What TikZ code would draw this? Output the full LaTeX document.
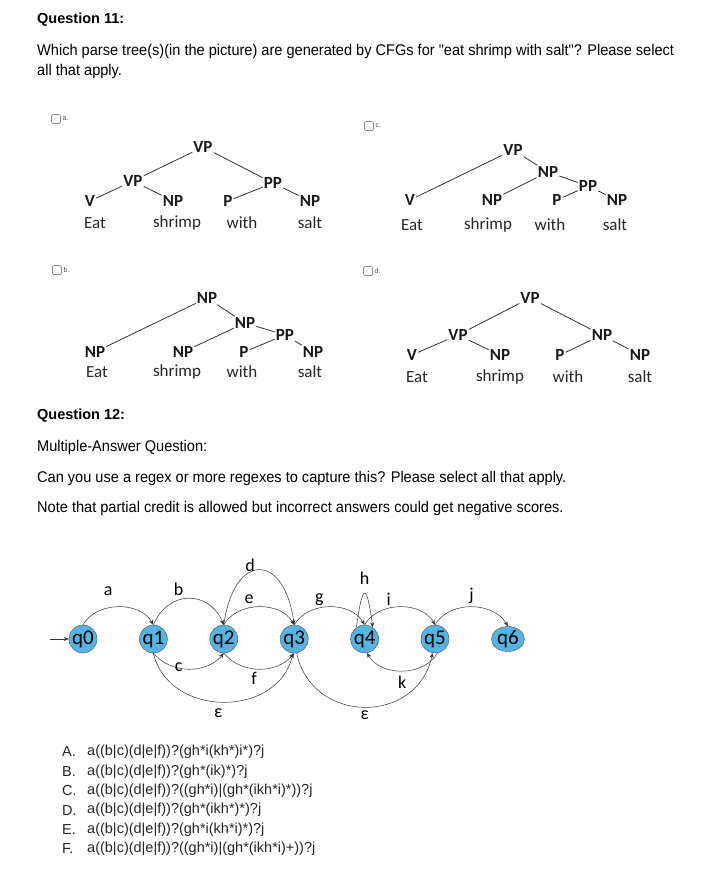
\documentclass[tikz,border=0pt]{standalone}
\usepackage{fontspec}
\setmainfont{Liberation Sans}
\newfontfamily\bodyfont[FakeStretch=0.94]{Liberation Sans}
\newfontfamily\treefont{Carlito}
\newfontfamily\fsmfont{Carlito}
\usetikzlibrary{arrows.meta,positioning,shapes.geometric}
\definecolor{StateBlue}{HTML}{56B4E0}
\definecolor{EdgeGray}{HTML}{333333}
\definecolor{BoxGray}{HTML}{8A8A8A}
\tikzset{
  qtitle/.style={anchor=west,inner sep=0pt,font=\bfseries\fontsize{14.5}{17}\selectfont},
  qtext/.style={anchor=west,inner sep=0pt,font=\bodyfont\fontsize{15.5}{18}\selectfont},
  tlab/.style={inner sep=1pt,font=\treefont\bfseries\fontsize{17}{20}\selectfont,text=black!90},
  tword/.style={inner sep=0pt,font=\treefont\fontsize{17}{20}\selectfont,text=black!85},
  tedge/.style={draw=EdgeGray,line width=0.8pt},
  chk/.style={draw=BoxGray,line width=0.7pt,rounded corners=1.5pt,minimum size=9pt,inner sep=0pt},
  chklab/.style={anchor=west,inner sep=0pt,font=\fontsize{7}{8}\selectfont,text=black!70},
  qstate/.style={circle,draw=black!70,fill=StateBlue,minimum size=28pt,inner sep=0pt,
    font=\fsmfont\fontsize{21}{22}\selectfont},
  fsmedge/.style={draw=EdgeGray,line width=0.5pt,-{Stealth[length=5pt,width=4pt]}},
  elab/.style={inner sep=0pt,font=\fsmfont\fontsize{18}{20}\selectfont},
  regex/.style={anchor=west,inner sep=0pt,font=\fontsize{14.5}{17}\selectfont,text=black!85}
}
\begin{document}
\begin{tikzpicture}[x=1pt,y=1pt]
\useasboundingbox[fill=white] (0,0) rectangle (708,-871);

\node[qtitle] (q11) at (37,-20) {Question 11:};
\node[qtext] (q11a) at (37,-51) {Which parse tree(s)(in the picture) are generated by CFGs for "eat shrimp with salt"? Please select};
\node[qtext] (q11b) at (37,-71) {all that apply.};

% tree a
\node[chk] (boxa) at (56,-119) {};
\node[chklab] (laba) at (62.5,-119) {a.};
\node[tlab] (aVP) at (203,-147) {VP};
\node[tlab] (aVPl) at (133,-181) {VP};
\node[tlab] (aPP) at (273,-183) {PP};
\node[tlab] (aV) at (90,-201) {V};
\node[tlab] (aNPa) at (173,-201) {NP};
\node[tlab] (aP) at (228,-201) {P};
\node[tlab] (aNPb) at (310,-201) {NP};
\node[tword] (aw1) at (95,-223) {Eat};
\node[tword] (aw2) at (177,-223) {shrimp};
\node[tword] (aw3) at (242,-223) {with};
\node[tword] (aw4) at (310,-223) {salt};
\foreach \p/\c in {aVP/aVPl,aVP/aPP,aVPl/aV,aVPl/aNPa,aPP/aP,aPP/aNPb}
  \draw[tedge] (\p) -- (\c);

% tree c
\node[chk] (boxc) at (369,-126) {};
\node[chklab] (labc) at (375.5,-126) {c.};
\node[tlab] (cVP) at (513,-150) {VP};
\node[tlab] (cNP) at (548,-172) {NP};
\node[tlab] (cPP) at (588,-186) {PP};
\node[tlab] (cV) at (410,-200) {V};
\node[tlab] (cNPa) at (492,-200) {NP};
\node[tlab] (cP) at (557,-200) {P};
\node[tlab] (cNPb) at (617,-200) {NP};
\node[tword] (cw1) at (412,-225) {Eat};
\node[tword] (cw2) at (488,-225) {shrimp};
\node[tword] (cw3) at (550,-225) {with};
\node[tword] (cw4) at (615,-225) {salt};
\foreach \p/\c in {cVP/cV,cVP/cNP,cNP/cNPa,cNP/cPP,cPP/cP,cPP/cNPb}
  \draw[tedge] (\p) -- (\c);

% tree b
\node[chk] (boxb) at (57,-270) {};
\node[chklab] (labb) at (63.5,-270) {b.};
\node[tlab] (bNP) at (207,-298) {NP};
\node[tlab] (bNPm) at (245,-323) {NP};
\node[tlab] (bPP) at (285,-335) {PP};
\node[tlab] (bNPe) at (95,-352) {NP};
\node[tlab] (bNPa) at (183,-352) {NP};
\node[tlab] (bP) at (244,-352) {P};
\node[tlab] (bNPb) at (313,-352) {NP};
\node[tword] (bw1) at (97,-372) {Eat};
\node[tword] (bw2) at (177,-372) {shrimp};
\node[tword] (bw3) at (242,-372) {with};
\node[tword] (bw4) at (310,-372) {salt};
\foreach \p/\c in {bNP/bNPe,bNP/bNPm,bNPm/bNPa,bNPm/bPP,bPP/bP,bPP/bNPb}
  \draw[tedge] (\p) -- (\c);

% tree d
\node[chk] (boxd) at (368,-271) {};
\node[chklab] (labd) at (374.5,-271) {d.};
\node[tlab] (dVP) at (530,-298) {VP};
\node[tlab] (dVPl) at (458,-335) {VP};
\node[tlab] (dNP) at (602,-335) {NP};
\node[tlab] (dV) at (412,-355) {V};
\node[tlab] (dNPa) at (500,-355) {NP};
\node[tlab] (dP) at (560,-355) {P};
\node[tlab] (dNPb) at (640,-355) {NP};
\node[tword] (dw1) at (417,-377) {Eat};
\node[tword] (dw2) at (500,-377) {shrimp};
\node[tword] (dw3) at (568,-377) {with};
\node[tword] (dw4) at (640,-377) {salt};
\foreach \p/\c in {dVP/dVPl,dVP/dNP,dVPl/dV,dVPl/dNPa,dNP/dP,dNP/dNPb}
  \draw[tedge] (\p) -- (\c);

\node[qtitle] (q12) at (37,-416) {Question 12:};
\node[qtext] (q12a) at (37,-447) {Multiple-Answer Question:};
\node[qtext] (q12b) at (37,-478) {Can you use a regex or more regexes to capture this? Please select all that apply.};
\node[qtext] (q12c) at (37,-508) {Note that partial credit is allowed but incorrect answers could get negative scores.};

% automaton
\node[qstate] (q0) at (83,-639) {q0};
\node[qstate,right=42pt of q0] (q1) {q1};
\node[qstate,right=42pt of q1] (q2) {q2};
\node[qstate,right=42pt of q2] (q3) {q3};
\node[qstate,right=42pt of q3] (q4) {q4};
\node[qstate,right=42pt of q4] (q5) {q5};
\node[qstate,ellipse,minimum width=33pt,minimum height=25pt,right=42pt of q5] (q6) {q6};
\coordinate (init) at (50,-639);

\draw[fsmedge] (init) -- (q0);
\draw[fsmedge] (q0.north) to[out=60,in=120]
  node[elab,midway,xshift=-10pt,yshift=16pt] {a} (q1.north);
\draw[fsmedge] (q1.north) .. controls +(15,35) and +(-15,35) ..
  node[elab,midway,xshift=-10pt,yshift=9pt] {b} (q2.north);
\draw[fsmedge] (q1.south) to[out=-50,in=-130]
  node[elab,midway,xshift=-10pt,yshift=2pt] {c} (q2.south);
\draw[fsmedge] (q2.north) .. controls +(10,73) and +(-10,73) ..
  node[elab,midway,xshift=-9pt,yshift=5pt] {d} (q3.north);
\draw[fsmedge] (q2.north) to[out=60,in=120]
  node[elab,midway,xshift=-10pt,yshift=8pt] {e} (q3.north);
\draw[fsmedge] (q2.south) to[out=-50,in=-130]
  node[elab,midway,xshift=-5pt,yshift=-9pt] {f} (q3.south);
\draw[fsmedge] (q1.south) .. controls +(15,-65) and +(-15,-65) ..
  node[elab,midway,xshift=-5pt,yshift=-11pt] {ε} (q3.-95);
\draw[fsmedge] (q3.north) to[out=60,in=120]
  node[elab,midway,xshift=-10pt,yshift=7pt] {g} (q4.north);
\draw[fsmedge] (q4.125) .. controls +(6,45) and +(-6,45) ..
  node[elab,midway,yshift=15pt] {h} (q4.55);
\draw[fsmedge] (q4.north) to[out=60,in=120]
  node[elab,midway,xshift=-11pt,yshift=8pt] {i} (q5.north);
\draw[fsmedge] (q5.north) to[out=60,in=120]
  node[elab,midway,yshift=11pt] {j} (q6.north);
\draw[fsmedge] (q5.-80) to[out=-120,in=-60]
  node[elab,midway,yshift=-11pt] {k} (q4.-80);
\draw[fsmedge] (q3.-80) .. controls +(15,-72) and +(-15,-72) ..
  node[elab,midway,yshift=-8pt] {ε} (q5.-100);

% answers
\foreach \ltr/\rx [count=\i from 0] in {
  A/{a((b|c)(d|e|f))?(gh*i(kh*)i*)?j},
  B/{a((b|c)(d|e|f))?(gh*(ik)*)?j},
  C/{a((b|c)(d|e|f))?((gh*i)|(gh*(ikh*i)*))?j},
  D/{a((b|c)(d|e|f))?(gh*(ikh*)*)?j},
  E/{a((b|c)(d|e|f))?(gh*i(kh*i)*)?j},
  F/{a((b|c)(d|e|f))?((gh*i)|(gh*(ikh*i)+))?j}}{
  \node[regex] (opt\ltr) at (62,{-752-19.4*\i}) {\ltr.};
  \node[regex] (rx\ltr) at (87,{-752-19.4*\i}) {\rx};
}
\end{tikzpicture}
\end{document}
